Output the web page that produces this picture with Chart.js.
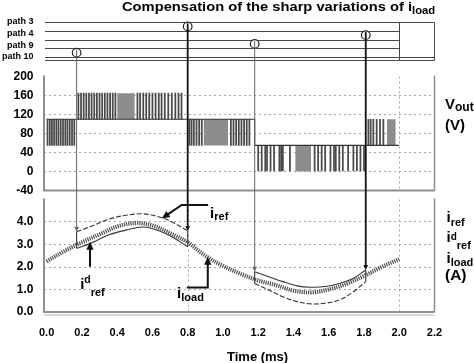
<!DOCTYPE html>
<html>
<head>
<meta charset="utf-8">
<script src="https://cdn.jsdelivr.net/npm/chart.js@4.4.1/dist/chart.umd.min.js"></script>
<style>
  html, body { margin: 0; padding: 0; background: #fff; }
  #wrap { position: relative; width: 474px; height: 363px; overflow: hidden; }
  canvas { position: absolute; left: 0; }
</style>
</head>
<body>
<div id="wrap">
  <canvas id="c-path" width="474" height="66" style="top:0px"></canvas>
  <canvas id="c-vout" width="474" height="130" style="top:66px"></canvas>
  <canvas id="c-cur" width="474" height="167" style="top:196px"></canvas>
  <canvas id="c-over" width="474" height="363" style="top:0px;pointer-events:none"></canvas>
</div>
<script>
// ---- shared time axis (ms)
const xMin = -0.015, xMax = 2.2;
const xTicks = [0.0, 0.2, 0.4, 0.6, 0.8, 1.0, 1.2, 1.4, 1.6, 1.8, 2.0, 2.2];
const xGuidesCur = [0.8, 2.0];
const xGuidesV = [2.0];

// ---- switching events (top panel)
const pathNames = ['path 3', 'path 4', 'path 9', 'path 10'];
const eventTimes = [0.17, 0.80, 1.18, 1.81];
const eventPaths = ['path 10', 'path 3', 'path 9', 'path 4'];

// ---- Vout (V)
const vTicks = [-40, 0, 40, 80, 120, 160, 200];
const segLow  = [55, 110, 55, 0, 55];
const segHigh = [110, 165, 110, 55, 110];
const pulseTimes = [
  [0.005, 0.018, 0.030, 0.042, 0.055, 0.067, 0.080, 0.093, 0.106, 0.118, 0.131, 0.144, 0.157],
  [0.180, 0.195, 0.210, 0.225, 0.240, 0.255, 0.270, 0.285, 0.300, 0.315, 0.330, 0.345, 0.360, 0.375, 0.390,
   0.515, 0.530, 0.548, 0.565, 0.582, 0.600, 0.618, 0.636, 0.652, 0.670, 0.690, 0.710, 0.730, 0.748, 0.765],
  [0.810, 0.822, 0.835, 0.850, 0.865, 0.880, 1.045, 1.060, 1.075, 1.090, 1.105, 1.120, 1.135, 1.150],
  [1.200, 1.220, 1.240, 1.250, 1.270, 1.290, 1.320, 1.330, 1.340, 1.380,
   1.520, 1.540, 1.560, 1.580, 1.610, 1.630, 1.640, 1.660, 1.680, 1.710, 1.740, 1.760, 1.780, 1.800],
  [1.825, 1.838, 1.853, 1.872, 1.891, 1.910]
];
const blockSeg  = [1, 2, 3, 4];
const blockFrom = [0.40, 0.89, 1.41, 1.93];
const blockTo   = [0.50, 1.03, 1.50, 1.98];
const baseT = [0.00, 1.18, 1.18, 2.00];
const baseV = [110, 110, 55, 55];

// ---- currents (A)
const iTicks = [0, 1, 2, 3, 4, 5];
const tLoad = [0.0, 0.1, 0.2, 0.3, 0.4, 0.5, 0.6, 0.7, 0.8, 0.9, 1.0,
               1.1, 1.2, 1.3, 1.4, 1.5, 1.6, 1.7, 1.8, 1.9, 2.0];
const iLoad = [2.25, 2.70, 3.10, 3.45, 3.80, 3.95, 3.85, 3.50, 3.10, 2.50, 2.05,
               1.70, 1.40, 1.20, 0.95, 0.87, 1.00, 1.25, 1.60, 2.00, 2.35];
const bandT1 = [0.17, 0.25, 0.35, 0.45, 0.55, 0.65, 0.72, 0.80];
const iRef1  = [3.57, 3.80, 4.12, 4.30, 4.36, 4.20, 3.97, 3.60];
const iDref1 = [2.83, 3.05, 3.42, 3.64, 3.78, 3.57, 3.30, 2.90];
const bandT2 = [1.18, 1.26, 1.34, 1.42, 1.50, 1.58, 1.66, 1.74, 1.81];
const iRef2  = [1.27, 0.98, 0.68, 0.46, 0.36, 0.39, 0.53, 0.90, 1.35];
const iDref2 = [1.79, 1.57, 1.35, 1.16, 1.10, 1.13, 1.27, 1.50, 1.87];

const bands = [
  {t: bandT1, ref: iRef1, dref: iDref1},
  {t: bandT2, ref: iRef2, dref: iDref2},
];

const FONT = '"Liberation Sans", Arial, Helvetica, sans-serif';
const bold = (size) => ({family: FONT, size: size, weight: 'bold'});
const pts = (xs, ys) => xs.map((x, i) => ({x: x, y: ys[i]}));
const near = (a, b) => Math.abs(a - b) < 1e-6;

// fixed left axis box, no extra label padding above/below the plot
function fixY(s) {
  s.width = 44;
  s.paddingTop = 0;
  s.paddingBottom = 0;
}

// frame + dotted guides for the two lower panels
const panel = {
  id: 'panel',
  beforeDatasetsDraw(chart, args, opts) {
    const {ctx, chartArea: a, scales: {x}} = chart;
    ctx.save();
    ctx.strokeStyle = '#a6a6a6';
    ctx.lineWidth = 1;
    ctx.setLineDash([2, 3]);
    for (const t of opts.guides || []) {
      const px = Math.round(x.getPixelForValue(t)) + 0.5;
      ctx.beginPath();
      ctx.moveTo(px, a.top);
      ctx.lineTo(px, a.bottom);
      ctx.stroke();
    }
    ctx.restore();
  },
  afterDatasetsDraw(chart, args, opts) {
    const {ctx, chartArea: a} = chart;
    ctx.save();
    ctx.strokeStyle = '#8f8f8f';
    ctx.lineWidth = 2;
    ctx.beginPath();
    ctx.moveTo(a.left, a.top - 1);
    ctx.lineTo(a.left, a.bottom);
    ctx.lineTo(a.right, a.bottom);
    ctx.stroke();
    ctx.lineWidth = 1.5;
    ctx.beginPath();
    ctx.moveTo(a.right, a.top - 1);
    ctx.lineTo(a.right, a.bottom);
    ctx.stroke();
    if (opts.double) {
      ctx.strokeStyle = '#b4b4b4';
      ctx.lineWidth = 1.2;
      ctx.beginPath();
      ctx.moveTo(a.left, a.bottom + 3);
      ctx.lineTo(a.right, a.bottom + 3);
      ctx.stroke();
    }
    ctx.restore();
  }
};

// lane lines of the path panel
const lanes = {
  id: 'lanes',
  beforeDatasetsDraw(chart) {
    const {ctx, chartArea: a, scales: {x, yLane}} = chart;
    const x0 = a.left + 1, x2 = x.getPixelForValue(2.0), xr = a.right;
    const n = pathNames.length;
    const yb = Math.round(yLane.getPixelForValue(n - 0.5)) + 3.5;
    ctx.save();
    ctx.strokeStyle = '#474747';
    ctx.lineWidth = 1;
    const seg = (ax, ay, bx, by) => { ctx.beginPath(); ctx.moveTo(ax, ay); ctx.lineTo(bx, by); ctx.stroke(); };
    for (let i = 0; i <= n; i++) {
      const py = Math.round(yLane.getPixelForValue(i - 0.5)) + 0.5;
      seg(x0, py, (i === 0 || i === n) ? xr : x2, py);
    }
    const yt = Math.round(yLane.getPixelForValue(-0.5)) + 0.5;
    seg(x0, yb, xr, yb);
    seg(Math.round(x2) + 0.5, yt, Math.round(x2) + 0.5, yb);
    seg(xr, yt, xr, yb);
    ctx.restore();
  }
};

const baseOpts = {
  animation: false,
  responsive: false,
  devicePixelRatio: 1,
  events: [],
  plugins: {legend: {display: false}, tooltip: {enabled: false}},
};

// ---------- top panel
const pathChart = new Chart(document.getElementById('c-path'), {
  type: 'scatter',
  data: {
    datasets: [{
      yAxisID: 'yLane',
      data: eventTimes.map((t, i) => ({x: t, y: eventPaths[i]})),
      pointRadius: 4.3,
      pointBackgroundColor: '#fff',
      pointBorderColor: '#222',
      pointBorderWidth: 1.2,
    }]
  },
  options: {
    ...baseOpts,
    layout: {padding: {top: 22, bottom: 9, left: 0, right: 39.5}},
    scales: {
      x: {type: 'linear', display: false, min: xMin, max: xMax},
      y: {
        type: 'category', labels: pathNames, offset: false, position: 'left',
        grid: {display: false, drawTicks: false}, border: {display: false},
        ticks: {font: bold(9), color: '#000', padding: 10.5, autoSkip: false},
        afterFit: fixY
      },
      yLane: {type: 'category', labels: pathNames, offset: true, display: false, position: 'left'}
    }
  },
  plugins: [lanes]
});

// ---------- Vout panel
const pulseData = [];
pulseTimes.forEach((ts, s) => ts.forEach(t => pulseData.push({x: t, y: [segLow[s], segHigh[s]]})));

const voutChart = new Chart(document.getElementById('c-vout'), {
  type: 'bar',
  data: {
    datasets: [
      {
        type: 'bar', data: pulseData, barThickness: 1.1,
        backgroundColor: '#4a4a4a', borderWidth: 0, order: 2
      },
      ...blockSeg.map((s, k) => ({
        type: 'line',
        data: [{x: blockFrom[k], y: segHigh[s]}, {x: blockTo[k], y: segHigh[s]}],
        fill: {value: segLow[s]}, backgroundColor: '#8d8d8d',
        borderWidth: 0, pointRadius: 0, order: 1
      })),
      {
        type: 'line', data: pts(baseT, baseV),
        borderColor: '#333', borderWidth: 1.2, pointRadius: 0, fill: false, order: 0
      }
    ]
  },
  options: {
    ...baseOpts,
    layout: {padding: {top: 10.5, bottom: 5.5, left: 0, right: 39.5}},
    plugins: {...baseOpts.plugins, panel: {guides: xGuidesV}},
    scales: {
      x: {type: 'linear', display: false, min: xMin, max: xMax, offset: false},
      y: {
        min: -40, max: 200,
        afterBuildTicks(s) { s.ticks = vTicks.map(v => ({value: v})); },
        grid: {
          drawTicks: false, lineWidth: 1,
          color: c => (c.tick && c.tick.value > -40 && c.tick.value < 200) ? '#a6a6a6' : 'rgba(0,0,0,0)'
        },
        border: {display: false, dash: [2, 3]},
        ticks: {font: bold(12), color: '#000', padding: 10.5},
        afterFit: fixY
      }
    }
  },
  plugins: [panel]
});

// ---------- current panel
const curSets = [{
  data: pts(tLoad, iLoad), borderColor: '#4f4f4f', borderWidth: 4,
  borderDash: [1.2, 1], tension: 0.35, pointRadius: 0
}];
bands.forEach(b => {
  const n = b.t.length - 1;
  curSets.push({data: pts(b.t, b.ref), borderColor: '#333', borderWidth: 1.1,
    borderDash: [5, 2], tension: 0.35, pointRadius: 0});
  curSets.push({data: pts(b.t, b.dref), borderColor: '#333', borderWidth: 1.1,
    tension: 0.35, pointRadius: 0});
  curSets.push({data: [{x: b.t[0], y: b.ref[0]}, {x: b.t[0], y: b.dref[0]}],
    borderColor: '#333', borderWidth: 1.1, pointRadius: 0});
  curSets.push({data: [{x: b.t[n], y: b.ref[n]}, {x: b.t[n], y: b.dref[n]}],
    borderColor: '#333', borderWidth: 1.1, pointRadius: 0});
});

const curChart = new Chart(document.getElementById('c-cur'), {
  type: 'line',
  data: {datasets: curSets},
  options: {
    ...baseOpts,
    layout: {padding: {top: 3.5, bottom: 0, left: 0, right: 39.5}},
    plugins: {...baseOpts.plugins, panel: {guides: xGuidesCur, double: true}},
    scales: {
      x: {
        type: 'linear', min: xMin, max: xMax,
        afterBuildTicks(s) { s.ticks = xTicks.map(v => ({value: v})); },
        grid: {display: false, drawTicks: false}, border: {display: false},
        ticks: {font: bold(11), color: '#000', padding: 14, autoSkip: false, maxRotation: 0,
          callback: v => v.toFixed(1)},
        afterFit(s) { s.height = 51; }
      },
      y: {
        min: 0, max: 5,
        afterBuildTicks(s) { s.ticks = iTicks.map(v => ({value: v})); },
        grid: {
          drawTicks: false, lineWidth: 1,
          color: c => (c.tick && c.tick.value > 0 && c.tick.value < 5) ? '#a6a6a6' : 'rgba(0,0,0,0)'
        },
        border: {display: false, dash: [2, 3]},
        ticks: {font: bold(12), color: '#000', padding: 10.5,
          callback: v => v === 5 ? '' : v.toFixed(1)},
        afterFit: fixY
      }
    }
  },
  plugins: [panel]
});

// ---------- overlay: event arrows, annotations, labels
function rich(ctx, x, y, parts) {
  let cx = x;
  for (const [txt, size, dy] of parts) {
    ctx.font = 'bold ' + size + 'px ' + FONT;
    ctx.fillText(txt, cx, y + dy);
    cx += ctx.measureText(txt).width;
  }
  return cx;
}

function arrow(ctx, p, width, color, len, half) {
  ctx.save();
  ctx.strokeStyle = color;
  ctx.fillStyle = color;
  ctx.lineWidth = width;
  const a = p[p.length - 2], b = p[p.length - 1];
  const ang = Math.atan2(b[1] - a[1], b[0] - a[0]);
  const bx = b[0] - Math.cos(ang) * len * 0.8, by = b[1] - Math.sin(ang) * len * 0.8;
  ctx.beginPath();
  ctx.moveTo(p[0][0], p[0][1]);
  for (let i = 1; i < p.length - 1; i++) ctx.lineTo(p[i][0], p[i][1]);
  ctx.lineTo(bx, by);
  ctx.stroke();
  ctx.beginPath();
  ctx.moveTo(b[0], b[1]);
  ctx.lineTo(b[0] - Math.cos(ang) * len + Math.sin(ang) * half, b[1] - Math.sin(ang) * len - Math.cos(ang) * half);
  ctx.lineTo(b[0] - Math.cos(ang) * len - Math.sin(ang) * half, b[1] - Math.sin(ang) * len + Math.cos(ang) * half);
  ctx.closePath();
  ctx.fill();
  ctx.restore();
}

function capTop(t) {
  for (const b of bands) {
    const n = b.t.length - 1;
    if (near(b.t[0], t)) return Math.max(b.ref[0], b.dref[0]);
    if (near(b.t[n], t)) return Math.max(b.ref[n], b.dref[n]);
  }
  return 0;
}

function drawOverlay() {
  const ctx = document.getElementById('c-over').getContext('2d');
  const curTop = 196;
  const xs = curChart.scales.x, ys = curChart.scales.y;
  const P = (t, v) => [xs.getPixelForValue(t), curTop + ys.getPixelForValue(v)];
  ctx.fillStyle = '#000';
  ctx.textBaseline = 'alphabetic';

  // event connectors: circle on the path panel down to the current band
  eventTimes.forEach((t, i) => {
    const px = pathChart.scales.x.getPixelForValue(t);
    const py = pathChart.scales.yLane.getPixelForValue(pathNames.indexOf(eventPaths[i])) - 3;
    const end = P(t, capTop(t));
    const strong = i % 2 === 1;
    arrow(ctx, [[px, py], [px, end[1]]], strong ? 1.8 : 1, strong ? '#111' : '#666', 5, 2.4);
  });

  // annotation arrows in the current panel
  arrow(ctx, [P(0.916, 4.76), P(0.766, 4.76), P(0.653, 4.16)], 2, '#111', 8, 3.6);
  arrow(ctx, [P(0.246, 2.01), P(0.246, 3.12)], 2, '#111', 8, 3.6);
  arrow(ctx, [P(0.795, 1.09), P(0.914, 1.09), P(0.914, 2.46)], 2, '#111', 8, 3.6);

  let q = P(0.927, 4.18);
  rich(ctx, q[0], q[1], [['i', 15, 0], ['ref', 11, 2.5]]);
  q = P(0.19, 1.02);
  rich(ctx, q[0], q[1], [['i', 15, 0], ['d', 10.5, -6], ['ref', 11, 6.5]]);
  q = P(0.74, 0.62);
  rich(ctx, q[0], q[1], [['i', 15, 0], ['load', 11, 3]]);

  // right-hand unit labels
  rich(ctx, 445, 108.5, [['V', 15, 0], ['out', 12, 2.2]]);
  rich(ctx, 445, 130, [['(V)', 15, 0]]);
  rich(ctx, 446.5, 222, [['i', 15, 0], ['ref', 11, 3.5]]);
  rich(ctx, 446.5, 242, [['i', 15, 0], ['d', 10, -2.5], ['ref', 11, 7]]);
  rich(ctx, 446.5, 263, [['i', 15, 0], ['load', 11, 2.5]]);
  rich(ctx, 445, 279.5, [['(A)', 15.5, 0]]);

  // axis title
  rich(ctx, 227, 361, [['Time (ms)', 13, 0]]);

  // chart title, stretched to the reference width
  ctx.save();
  ctx.font = 'bold 13px ' + FONT;
  const main = 'Compensation of the sharp variations of i';
  const sx = 290 / ctx.measureText(main).width;
  ctx.translate(122, 10.5);
  ctx.scale(sx, 1);
  rich(ctx, 0, 0, [[main, 13, 0], ['load', 10, 3.5]]);
  ctx.restore();
}

drawOverlay();
</script>
</body>
</html>
